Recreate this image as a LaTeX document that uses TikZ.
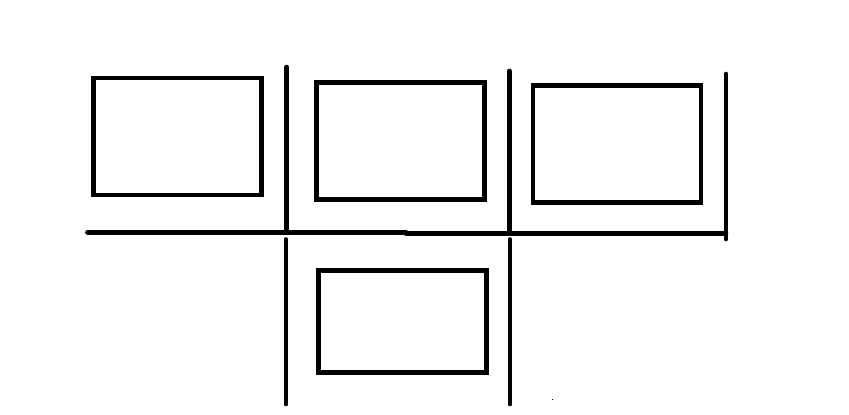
\documentclass[tikz,border=0pt]{standalone}
\begin{document}
\begin{tikzpicture}[x=0.02cm, y=-0.02cm, line width=2.67pt]
        \useasboundingbox (0,0) rectangle (849,414);
        \tikzset{wall/.style={line cap=round}, room/.style={line join=miter}}

        \draw[room] (93.3,78) rectangle (261.3,195);
        \draw[room] (316.3,82.3) rectangle (484.3,199.3);
        \draw[room] (533,85.7) rectangle (701,202.7);
        \draw[room] (318.3,270.3) rectangle (486.3,372.3);

        \draw[wall] (87.5,232.3) -- (406,232.3);
        \draw[wall] (406,233.4) -- (726,233.4);
        \draw[wall] (286.7,67) -- (286.7,232);
        \draw[wall] (509.3,71) -- (509.3,233);
        \draw[wall] (726,74) -- (726,239);
        \draw[wall] (286,239.5) -- (286,404);
        \draw[wall] (510,239.5) -- (510,404);

        \fill (551.5,398.8) rectangle (553.3,399.8);
    \end{tikzpicture}
\end{document}
